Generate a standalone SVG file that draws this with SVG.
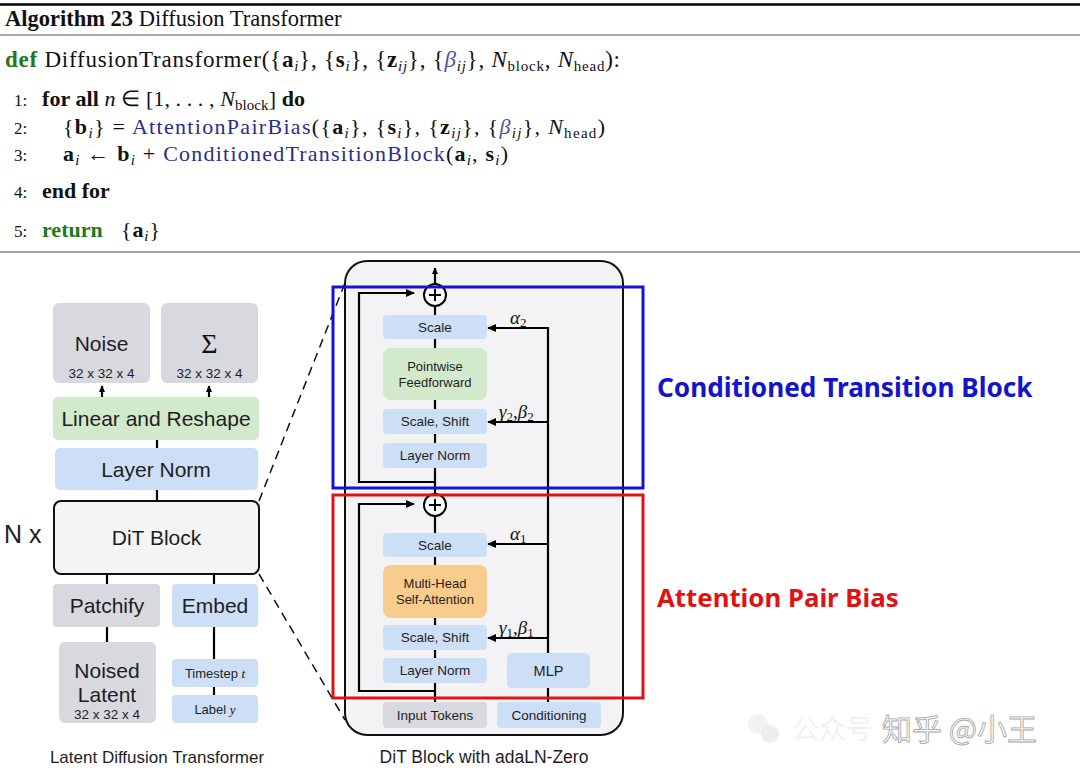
<svg xmlns="http://www.w3.org/2000/svg" width="1080" height="773" viewBox="0 0 1080 773">
<defs>
<style>
.serif{font-family:"Liberation Serif","Times New Roman",serif;fill:#111}
.sans{font-family:"Liberation Sans",Arial,sans-serif;fill:#1e1e1e}
.b{font-weight:bold}
.it{font-style:italic}
.grn{fill:#1f7a1f}
.blu{fill:#2b2d8a}
.gray{fill:#d8d9df}
.lblue{fill:#cddff6}
.green{fill:#d3e9cc}
.orange{fill:#f8cc8c}
.ln{stroke:#000;stroke-width:2.2;fill:none}
.dash{stroke:#111;stroke-width:1.5;stroke-dasharray:9 6;fill:none}
.c{text-anchor:middle}
</style>
<marker id="ah" viewBox="0 0 10 10" refX="9" refY="5" markerWidth="9" markerHeight="9" markerUnits="userSpaceOnUse" orient="auto"><path d="M0,0.5 L10,5 L0,9.5 z" fill="#000"/></marker>
<marker id="ahs" viewBox="0 0 10 10" refX="9" refY="5" markerWidth="7" markerHeight="7" markerUnits="userSpaceOnUse" orient="auto"><path d="M0,0.5 L10,5 L0,9.5 z" fill="#000"/></marker>
</defs>
<rect width="1080" height="773" fill="#fff"/>

<!-- Algorithm -->
<g id="algorithm">
<line x1="0" y1="4.5" x2="1080" y2="4.5" stroke="#000" stroke-width="2.5"/>
<text class="serif" x="5" y="26" font-size="22.5"><tspan class="b">Algorithm 23</tspan> Diffusion Transformer</text>
<line x1="0" y1="35" x2="1080" y2="35" stroke="#555" stroke-width="1.2"/>
<text class="serif" x="5" y="67" font-size="23" textLength="615" lengthAdjust="spacing"><tspan class="b grn">def</tspan>  DiffusionTransformer({<tspan class="b">a</tspan><tspan class="it" font-size="15" dy="4">i</tspan><tspan dy="-4">}, {</tspan><tspan class="b">s</tspan><tspan class="it" font-size="15" dy="4">i</tspan><tspan dy="-4">}, {</tspan><tspan class="b">z</tspan><tspan class="it" font-size="15" dy="4">ij</tspan><tspan dy="-4">}, {</tspan><tspan class="it" fill="#4a55a0">β</tspan><tspan class="it" font-size="15" dy="4">ij</tspan><tspan dy="-4">}, </tspan><tspan class="it">N</tspan><tspan font-size="15" dy="4">block</tspan><tspan dy="-4">, </tspan><tspan class="it">N</tspan><tspan font-size="15" dy="4">head</tspan><tspan dy="-4">):</tspan></text>
<text class="serif" x="14" y="106" font-size="17">1:</text>
<text class="serif" x="42" y="106" font-size="22" textLength="263" lengthAdjust="spacing"><tspan class="b">for all</tspan> <tspan class="it">n</tspan> ∈ [1, . . . , <tspan class="it">N</tspan><tspan font-size="15" dy="4">block</tspan><tspan dy="-4">] </tspan><tspan class="b">do</tspan></text>
<text class="serif" x="14" y="134" font-size="17">2:</text>
<text class="serif" x="63" y="134" font-size="22" textLength="542" lengthAdjust="spacing">{<tspan class="b">b</tspan><tspan class="it" font-size="15" dy="4">i</tspan><tspan dy="-4">} = </tspan><tspan class="blu">AttentionPairBias</tspan>({<tspan class="b">a</tspan><tspan class="it" font-size="15" dy="4">i</tspan><tspan dy="-4">}, {</tspan><tspan class="b">s</tspan><tspan class="it" font-size="15" dy="4">i</tspan><tspan dy="-4">}, {</tspan><tspan class="b">z</tspan><tspan class="it" font-size="15" dy="4">ij</tspan><tspan dy="-4">}, {</tspan><tspan class="it" fill="#4a55a0">β</tspan><tspan class="it" font-size="15" dy="4">ij</tspan><tspan dy="-4">}, </tspan><tspan class="it">N</tspan><tspan font-size="15" dy="4">head</tspan><tspan dy="-4">)</tspan></text>
<text class="serif" x="14" y="161" font-size="17">3:</text>
<text class="serif" x="63" y="161" font-size="22" textLength="445" lengthAdjust="spacing"><tspan class="b">a</tspan><tspan class="it" font-size="15" dy="4">i</tspan><tspan dy="-4"> ← </tspan><tspan class="b">b</tspan><tspan class="it" font-size="15" dy="4">i</tspan><tspan dy="-4"> + </tspan><tspan class="blu">ConditionedTransitionBlock</tspan>(<tspan class="b">a</tspan><tspan class="it" font-size="15" dy="4">i</tspan><tspan dy="-4">, </tspan><tspan class="b">s</tspan><tspan class="it" font-size="15" dy="4">i</tspan><tspan dy="-4">)</tspan></text>
<text class="serif" x="14" y="198" font-size="17">4:</text>
<text class="serif b" x="42" y="198" font-size="22">end for</text>
<text class="serif" x="14" y="237" font-size="17">5:</text>
<text class="serif b grn" x="42" y="237" font-size="22">return</text>
<text class="serif" x="121" y="237" font-size="22" textLength="39" lengthAdjust="spacing">{<tspan class="b">a</tspan><tspan class="it" font-size="15" dy="4">i</tspan><tspan dy="-4">}</tspan></text>
<line x1="0" y1="252" x2="1080" y2="252" stroke="#444" stroke-width="1.2"/>
</g>

<!-- Zoom dashed lines -->
<g id="zoom-lines">
<line class="dash" x1="259" y1="501" x2="345" y2="283"/>
<line class="dash" x1="259" y1="574" x2="345" y2="720"/>
</g>

<!-- Left diagram connectors -->
<g id="connectors-left">
<line class="ln" x1="102" y1="397" x2="102" y2="386" marker-end="url(#ahs)" stroke-width="2"/>
<line class="ln" x1="209" y1="397" x2="209" y2="386" marker-end="url(#ahs)" stroke-width="2"/>
<line class="ln" x1="157" y1="440" x2="157" y2="448"/>
<line class="ln" x1="157" y1="490" x2="157" y2="501"/>
<line class="ln" x1="107" y1="574" x2="107" y2="584"/>
<line class="ln" x1="107" y1="627" x2="107" y2="642"/>
<line class="ln" x1="214" y1="574" x2="214" y2="584"/>
<line class="ln" x1="214" y1="627" x2="214" y2="659"/>
<line class="ln" x1="214" y1="687" x2="214" y2="695"/>
</g>

<!-- Left diagram nodes -->
<g id="noise"><rect class="gray" x="53" y="303" width="97" height="80" rx="6"/><text class="sans c" x="101.5" y="351" font-size="21">Noise</text><text class="sans c" x="101.5" y="378" font-size="13.5" fill="#333">32 x 32 x 4</text></g>
<g id="sigma"><rect class="gray" x="161" y="303" width="97" height="80" rx="6"/><text class="serif c" x="209.5" y="353" font-size="28">Σ</text><text class="sans c" x="209.5" y="378" font-size="13.5" fill="#333">32 x 32 x 4</text></g>
<g id="linear-reshape"><rect class="green" x="53" y="397" width="206" height="43" rx="5"/><text class="sans c" x="156" y="426" font-size="21">Linear and Reshape</text></g>
<g id="layer-norm-left"><rect class="lblue" x="55" y="448" width="203" height="42" rx="5"/><text class="sans c" x="156" y="477" font-size="21">Layer Norm</text></g>
<g id="dit-block"><rect x="54" y="501" width="205" height="73" rx="7" fill="#f4f4f4" stroke="#111" stroke-width="2"/><text class="sans c" x="156.5" y="545" font-size="21">DiT Block</text></g>
<text class="sans" x="4" y="543" font-size="25">N x</text>
<g id="patchify"><rect class="gray" x="53" y="584" width="107" height="43" rx="4"/><text class="sans c" x="107" y="613" font-size="21">Patchify</text></g>
<g id="embed"><rect class="lblue" x="172" y="584" width="86" height="43" rx="4"/><text class="sans c" x="215" y="613" font-size="21">Embed</text></g>
<g id="noised-latent"><rect class="gray" x="59" y="642" width="97" height="81" rx="6"/><text class="sans c" x="107" y="678" font-size="21">Noised</text><text class="sans c" x="107" y="702" font-size="21">Latent</text><text class="sans c" x="107" y="719" font-size="13.5" fill="#333">32 x 32 x 4</text></g>
<g id="timestep"><rect class="lblue" x="172" y="659" width="86" height="28" rx="4"/><text class="sans c" x="215" y="678" font-size="13">Timestep <tspan class="serif it">t</tspan></text></g>
<g id="label"><rect class="lblue" x="172" y="695" width="86" height="28" rx="4"/><text class="sans c" x="215" y="714" font-size="13">Label <tspan class="serif it">y</tspan></text></g>
<text class="sans c" x="157" y="763" font-size="17">Latent Diffusion Transformer</text>

<!-- Right container -->
<g id="dit-adaln">
<rect x="345" y="261" width="278" height="474" rx="22" fill="#f3f3f5" stroke="#111" stroke-width="2"/>
<text class="sans c" x="484" y="763" font-size="17.5">DiT Block with adaLN-Zero</text>
</g>

<!-- Right connectors -->
<g id="connectors-right">
<line class="ln" x1="435" y1="284" x2="435" y2="268" marker-end="url(#ahs)"/>
<line class="ln" x1="435" y1="306" x2="435" y2="315"/>
<line class="ln" x1="435" y1="339" x2="435" y2="348"/>
<line class="ln" x1="435" y1="400" x2="435" y2="409"/>
<line class="ln" x1="435" y1="434" x2="435" y2="443"/>
<line class="ln" x1="435" y1="468" x2="435" y2="494"/>
<polyline class="ln" points="435,482 359,482 359,293 414,293" marker-end="url(#ah)"/>
<line class="ln" x1="435" y1="516" x2="435" y2="533"/>
<line class="ln" x1="435" y1="557" x2="435" y2="565"/>
<line class="ln" x1="435" y1="618" x2="435" y2="625"/>
<line class="ln" x1="435" y1="650" x2="435" y2="658"/>
<line class="ln" x1="435" y1="683" x2="435" y2="702"/>
<polyline class="ln" points="435,691 359,691 359,504 414,504" marker-end="url(#ah)"/>
<line class="ln" x1="548" y1="702" x2="548" y2="688"/>
<line class="ln" x1="548" y1="653" x2="548" y2="327"/>
<line class="ln" x1="549" y1="328" x2="488" y2="328" marker-end="url(#ah)"/>
<line class="ln" x1="549" y1="422" x2="488" y2="422" marker-end="url(#ah)"/>
<line class="ln" x1="549" y1="544" x2="488" y2="544" marker-end="url(#ah)"/>
<line class="ln" x1="549" y1="638" x2="488" y2="638" marker-end="url(#ah)"/>
<text class="serif it" x="510" y="324" font-size="19">α<tspan font-size="13" dy="3" font-style="normal">2</tspan></text>
<text class="serif it" x="499" y="418" font-size="19">γ<tspan font-size="13" dy="3" font-style="normal">2</tspan><tspan dy="-3" font-style="normal">,</tspan>β<tspan font-size="13" dy="3" font-style="normal">2</tspan></text>
<text class="serif it" x="510" y="540" font-size="19">α<tspan font-size="13" dy="3" font-style="normal">1</tspan></text>
<text class="serif it" x="499" y="634" font-size="19">γ<tspan font-size="13" dy="3" font-style="normal">1</tspan><tspan dy="-3" font-style="normal">,</tspan>β<tspan font-size="13" dy="3" font-style="normal">1</tspan></text>
</g>

<!-- Right nodes -->
<g id="plus-2"><circle cx="435" cy="295" r="11" fill="#fff" stroke="#000" stroke-width="2"/><path d="M429,295 H441 M435,289 V301" stroke="#000" stroke-width="2"/></g>
<g id="scale-2"><rect class="lblue" x="383" y="315" width="104" height="24" rx="4"/><text class="sans c" x="435" y="332" font-size="13.5">Scale</text></g>
<g id="pointwise-ff"><rect class="green" x="383" y="348" width="104" height="52" rx="8"/><text class="sans c" x="435" y="371" font-size="13">Pointwise</text><text class="sans c" x="435" y="387" font-size="13">Feedforward</text></g>
<g id="scale-shift-2"><rect class="lblue" x="383" y="409" width="104" height="25" rx="4"/><text class="sans c" x="435" y="426" font-size="13.5">Scale, Shift</text></g>
<g id="layer-norm-2"><rect class="lblue" x="383" y="443" width="104" height="25" rx="4"/><text class="sans c" x="435" y="460" font-size="13.5">Layer Norm</text></g>
<g id="plus-1"><circle cx="435" cy="505" r="11" fill="#fff" stroke="#000" stroke-width="2"/><path d="M429,505 H441 M435,499 V511" stroke="#000" stroke-width="2"/></g>
<g id="scale-1"><rect class="lblue" x="383" y="533" width="104" height="24" rx="4"/><text class="sans c" x="435" y="550" font-size="13.5">Scale</text></g>
<g id="mhsa"><rect class="orange" x="383" y="565" width="104" height="53" rx="8"/><text class="sans c" x="435" y="588" font-size="13">Multi-Head</text><text class="sans c" x="435" y="604" font-size="13">Self-Attention</text></g>
<g id="scale-shift-1"><rect class="lblue" x="383" y="625" width="104" height="25" rx="4"/><text class="sans c" x="435" y="642" font-size="13.5">Scale, Shift</text></g>
<g id="layer-norm-1"><rect class="lblue" x="383" y="658" width="104" height="25" rx="4"/><text class="sans c" x="435" y="675" font-size="13.5">Layer Norm</text></g>
<g id="mlp"><rect class="lblue" x="507" y="653" width="83" height="35" rx="5"/><text class="sans c" x="548.5" y="676" font-size="14.5">MLP</text></g>
<g id="input-tokens"><rect class="gray" x="383" y="702" width="104" height="26" rx="4"/><text class="sans c" x="435" y="720" font-size="13.5">Input Tokens</text></g>
<g id="conditioning"><rect class="lblue" x="497" y="702" width="104" height="26" rx="4"/><text class="sans c" x="549" y="720" font-size="13.5">Conditioning</text></g>

<!-- Highlight boxes -->
<g id="conditioned-transition-block">
<rect x="333" y="287" width="310" height="201" fill="none" stroke="#1414cc" stroke-width="3"/>
<text x="657" y="397" font-family="'Noto Sans','Liberation Sans',sans-serif" font-weight="bold" font-size="26.2" fill="#1414cc">Conditioned Transition Block</text>
</g>
<g id="attention-pair-bias">
<rect x="333" y="495" width="310" height="203" fill="none" stroke="#dd1414" stroke-width="3"/>
<text x="657" y="607" font-family="'Noto Sans','Liberation Sans',sans-serif" font-weight="bold" font-size="25.8" fill="#dd1414">Attention Pair Bias</text>
</g>

<!-- Watermark -->
<g id="watermark" opacity="0.9">
<circle cx="758" cy="724" r="10" fill="#f1f1f1"/>
<circle cx="770" cy="734" r="9" fill="#ececec"/>
<text x="792" y="739" font-family="'Noto Sans CJK SC',sans-serif" font-size="27" fill="#f0f0f0">公众号</text>
<text x="882" y="740" font-family="'Noto Sans CJK SC',sans-serif" font-size="30" fill="#fafafa" stroke="#9a9a9a" stroke-width="0.8">知乎 @小王</text>
</g>
</svg>
